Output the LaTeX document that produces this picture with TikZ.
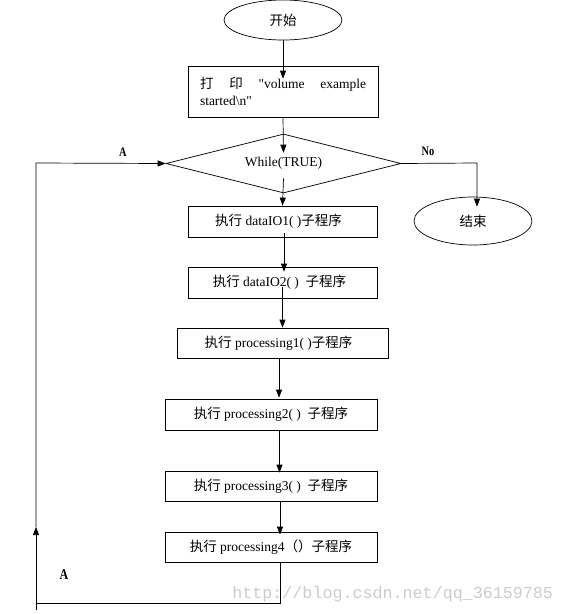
\documentclass[tikz,border=0pt]{standalone}
\usepackage{fontspec}
\usepackage{graphicx}
\setmainfont{Liberation Serif}
\newfontfamily\qfont{Liberation Serif}
\newfontfamily\cjk{Noto Sans CJK SC}
\newfontfamily\wmfont{Liberation Mono}
\usetikzlibrary{arrows.meta,shapes.geometric}
\newcommand{\zh}[1]{{\cjk #1}}
\newcommand{\dq}{{\qfont"}}
\newcommand{\narrowbf}[1]{\scalebox{0.8}[1]{\textbf{#1}}}
\begin{document}
\begin{tikzpicture}[x=1pt,y=-1pt,
  line width=0.7pt,
  font=\fontsize{13.5}{17}\selectfont,
  arr/.style={-{Triangle[length=8pt,width=6pt]}},
  proc/.style={draw, rectangle, inner sep=0pt, align=center},
  term/.style={draw, ellipse, inner sep=0pt},
  lbl/.style={inner sep=0pt, font=\fontsize{13}{13}\selectfont},
  lblbig/.style={inner sep=0pt, font=\fontsize{15}{15}\selectfont}
]
\useasboundingbox (0,0) rectangle (564,614);

% nodes
\node[term, minimum width=118pt, minimum height=40pt] (s) at (283,20) {\zh{开始}\hspace{14pt}};
\node[proc, minimum width=190pt, minimum height=51pt, text width=166pt, align=justify] (p) at (283,91.5)
  {\zh{打} \zh{印} \dq volume example started\textbackslash n\dq};
\node[draw, diamond, inner sep=0pt, aspect=4, minimum width=235pt, minimum height=59pt] (d) at (283.5,163.5) {While(TRUE)};
\node[proc, minimum width=189pt, minimum height=31pt] (b1) at (282.5,221.5) {\zh{执行} dataIO1( )\zh{子程序}\hspace{8pt}};
\node[proc, minimum width=189pt, minimum height=31pt] (b2) at (282.5,282.5) {\zh{执行} dataIO2( ) \ \zh{子程序}\hspace{6pt}};
\node[proc, minimum width=211pt, minimum height=30pt] (b3) at (282.5,343) {\zh{执行} processing1( )\zh{子程序}\hspace{8pt}};
\node[proc, minimum width=212pt, minimum height=31pt] (b4) at (271,414.5) {\zh{执行} processing2( ) \ \zh{子程序}};
\node[proc, minimum width=212pt, minimum height=30pt] (b5) at (271,486) {\zh{执行} processing3( ) \ \zh{子程序}};
\node[proc, minimum width=212pt, minimum height=30pt] (b6) at (271,547) {\zh{执行} processing4\zh{（）}\zh{子程序}};
\node[term, minimum width=118pt, minimum height=48pt] (e) at (473,221) {\zh{结束}\hspace{14pt}};

% labels
\node[lbl] (la) at (123,152) {\narrowbf{A}};
\node[lbl] (no) at (428,151) {\narrowbf{No}};
\node[lblbig] (lb) at (64,575) {\narrowbf{A}};
\node[anchor=west, inner sep=0pt, text=black!20, font=\wmfont\fontsize{16.7}{16.7}\selectfont] (wm) at (232,594) {http://blog.csdn.net/qq\_36159785};

% coordinates
\coordinate (bl) at (36,603);
\coordinate (blow) at (36,610);
\coordinate (mid) at (36,527);
\coordinate (tl) at (36,163);
\coordinate (tr) at (477,163);

% connectors
\draw[arr] (s.south) -- ([yshift=-13pt]p.north);
\draw[arr] (p.south) -- ([yshift=-19pt]d.north);
\draw[arr] ([yshift=15pt]d.south) -- (b1.north);
\draw[arr] ([xshift=1.5pt,yshift=4pt]b1.south) -- ([xshift=1.5pt,yshift=-5pt]b2.north);
\draw[arr] ([yshift=11pt]b2.south) -- (b3.north);
\draw[arr] ([xshift=-3.5pt]b3.south) -- ([xshift=8pt,yshift=1pt]b4.north);
\draw[arr] ([xshift=8.5pt]b4.south) -- ([xshift=8.5pt,yshift=-2pt]b5.north);
\draw[arr] ([xshift=9pt]b5.south) -- ([xshift=9pt,yshift=-3pt]b6.north);
\draw ([xshift=9pt]b6.south) |- (bl);
\draw[arr] (blow) -- (mid);
\draw[arr] (mid) -- (tl) -- (d.west);
\draw[arr] (d.east) -- (tr) -- ([xshift=4pt,yshift=-10pt]e.north);
\end{tikzpicture}
\end{document}
